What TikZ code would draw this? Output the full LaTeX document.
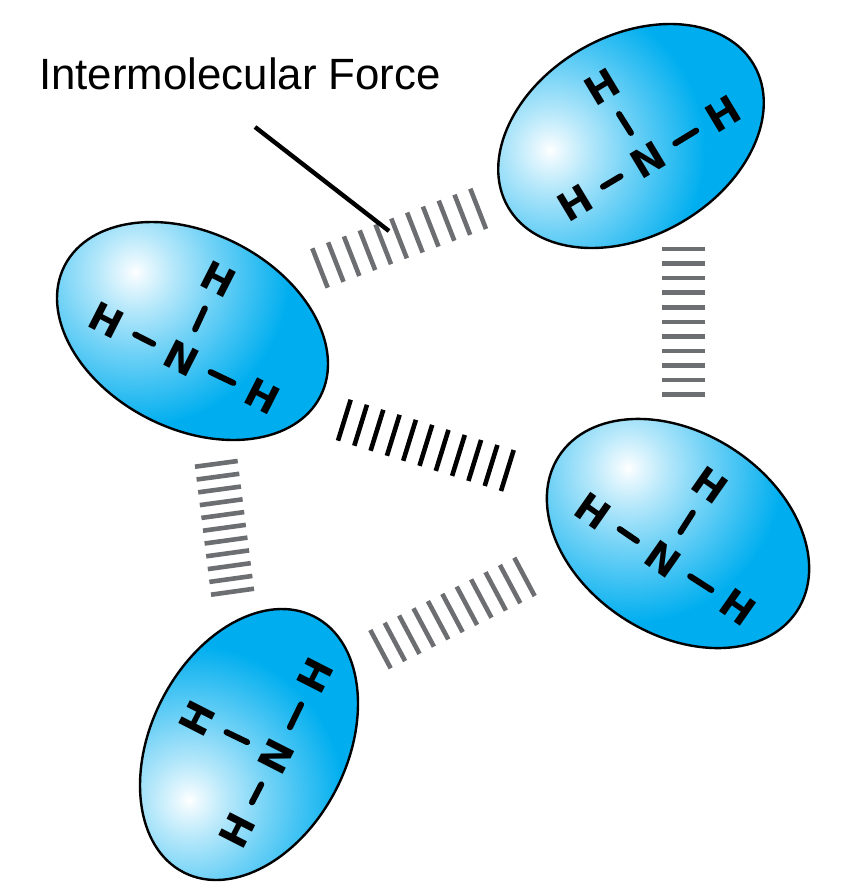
\documentclass[tikz,border=0pt]{standalone}
\usepackage{fontspec}
\setmainfont{Liberation Sans}
\newfontfamily\atomfont[BoldFont={DejaVu Sans Bold}]{DejaVu Sans}
\usetikzlibrary{calc}
\definecolor{molblue}{HTML}{00AEEF}
\definecolor{hatchgray}{HTML}{6D6E71}
\pgfdeclareradialshading{molglow}{\pgfpointorigin}{color(0bp)=(white); color(1.5bp)=(white!92!molblue); color(6bp)=(white!72!molblue); color(12.5bp)=(white!46!molblue); color(25bp)=(molblue); color(50bp)=(molblue)}
\tikzset{
  atom/.style={circle,inner sep=0pt,outer sep=0pt,minimum size=64pt,font={\atomfont\bfseries\fontsize{39}{39}\selectfont},text=black},
  bond/.style={line width=6pt,line cap=round,black},
  hatchgrey/.style={line width=4.6pt,hatchgray},
  hatchblack/.style={line width=4.6pt,black},
  leader/.style={line width=4.4pt,black},
  outline/.style={line width=2.4pt,black},
}
% \blob{centre}{angle}{a}{b}{glow centre}
\newcommand{\blob}[5]{%
  \fill[molblue,rotate around={#2:(#1)}] (#1) ellipse [x radius=#3pt,y radius=#4pt];
  \begin{scope}
    \clip[rotate around={#2:(#1)}] (#1) ellipse [x radius=#3pt,y radius=#4pt];
    \shade[shading=molglow] (#5) circle [radius=155pt];
  \end{scope}
  \draw[outline,rotate around={#2:(#1)}] (#1) ellipse [x radius=#3pt,y radius=#4pt];
}
% \hatchrow{style}{a1}{a2}{b1}{b2}
\newcommand{\hatchrow}[5]{%
  \coordinate (ha) at (#2); \coordinate (hb) at (#3);
  \coordinate (hc) at (#4); \coordinate (hd) at (#5);
  \foreach \i in {0,...,10}{\draw[#1] ($(ha)!\i/10!(hc)$) -- ($(hb)!\i/10!(hd)$);}
}
\begin{document}
\begin{tikzpicture}[x=1pt,y=-1pt]
\useasboundingbox (0,0) rectangle (865,892);

\node[anchor=base west,inner sep=0pt,font=\fontsize{43.8}{50}\selectfont] (title) at (39,89) {Intermolecular Force};

% hatch rows
\hatchrow{hatchgrey}{312.3,248.3}{327.7,287.7}{470.3,188.7}{486,229}
\hatchrow{hatchblack}{350.7,399.7}{338,440.7}{513.7,450}{501,491}
\hatchrow{hatchgrey}{662,249}{705,249}{662,394.7}{705,394.7}
\hatchrow{hatchgrey}{195,466.7}{237.7,461}{211,594.7}{254,588.7}
\hatchrow{hatchgrey}{370.3,630}{390.7,668.3}{514.3,557.7}{534.7,596}

% leader
\coordinate (leadA) at (255,127);
\coordinate (leadB) at (389,231);
\draw[leader] (leadA) -- (leadB);

% molecule 1, top right
\blob{631,136}{30}{142}{100}{550,150}
\begin{scope}[every node/.append style={atom,rotate=31}]
\node (N1) at (648,160) {N};
\node (H1a) at (602,87) {H};
\node (H1b) at (723.5,114) {H};
\node (H1c) at (575.5,203) {H};
\end{scope}
\draw[bond] (N1) -- (H1a);
\draw[bond] (N1) -- (H1b);
\draw[bond] (N1) -- (H1c);

% molecule 2, left
\blob{192.5,331}{-27}{143.6}{98}{135,272}
\begin{scope}[every node/.append style={atom,rotate=-27}]
\node (N2) at (181.7,358.3) {N};
\node (H2a) at (218.3,279.3) {H};
\node (H2b) at (106.7,320) {H};
\node (H2c) at (262.3,396.7) {H};
\end{scope}
\draw[bond] (N2) -- (H2a);
\draw[bond] (N2) -- (H2b);
\draw[bond] (N2) -- (H2c);

% molecule 3, right
\blob{678,533.5}{-33}{142}{100.8}{628,468}
\begin{scope}[every node/.append style={atom,rotate=-35}]
\node (N3) at (663.3,559) {N};
\node (H3a) at (710,485.7) {H};
\node (H3b) at (593.3,511) {H};
\node (H3c) at (738.3,607.3) {H};
\end{scope}
\draw[bond] (N3) -- (H3a);
\draw[bond] (N3) -- (H3b);
\draw[bond] (N3) -- (H3c);

% molecule 4, bottom
\blob{249,744.5}{63}{143.6}{98}{189,800}
\begin{scope}[every node/.append style={atom,rotate=63}]
\node (N4) at (276,756) {N};
\node (H4a) at (315,675.7) {H};
\node (H4b) at (197.7,718.3) {H};
\node (H4c) at (237.3,830.7) {H};
\end{scope}
\draw[bond] (N4) -- (H4a);
\draw[bond] (N4) -- (H4b);
\draw[bond] (N4) -- (H4c);
\end{tikzpicture}
\end{document}
